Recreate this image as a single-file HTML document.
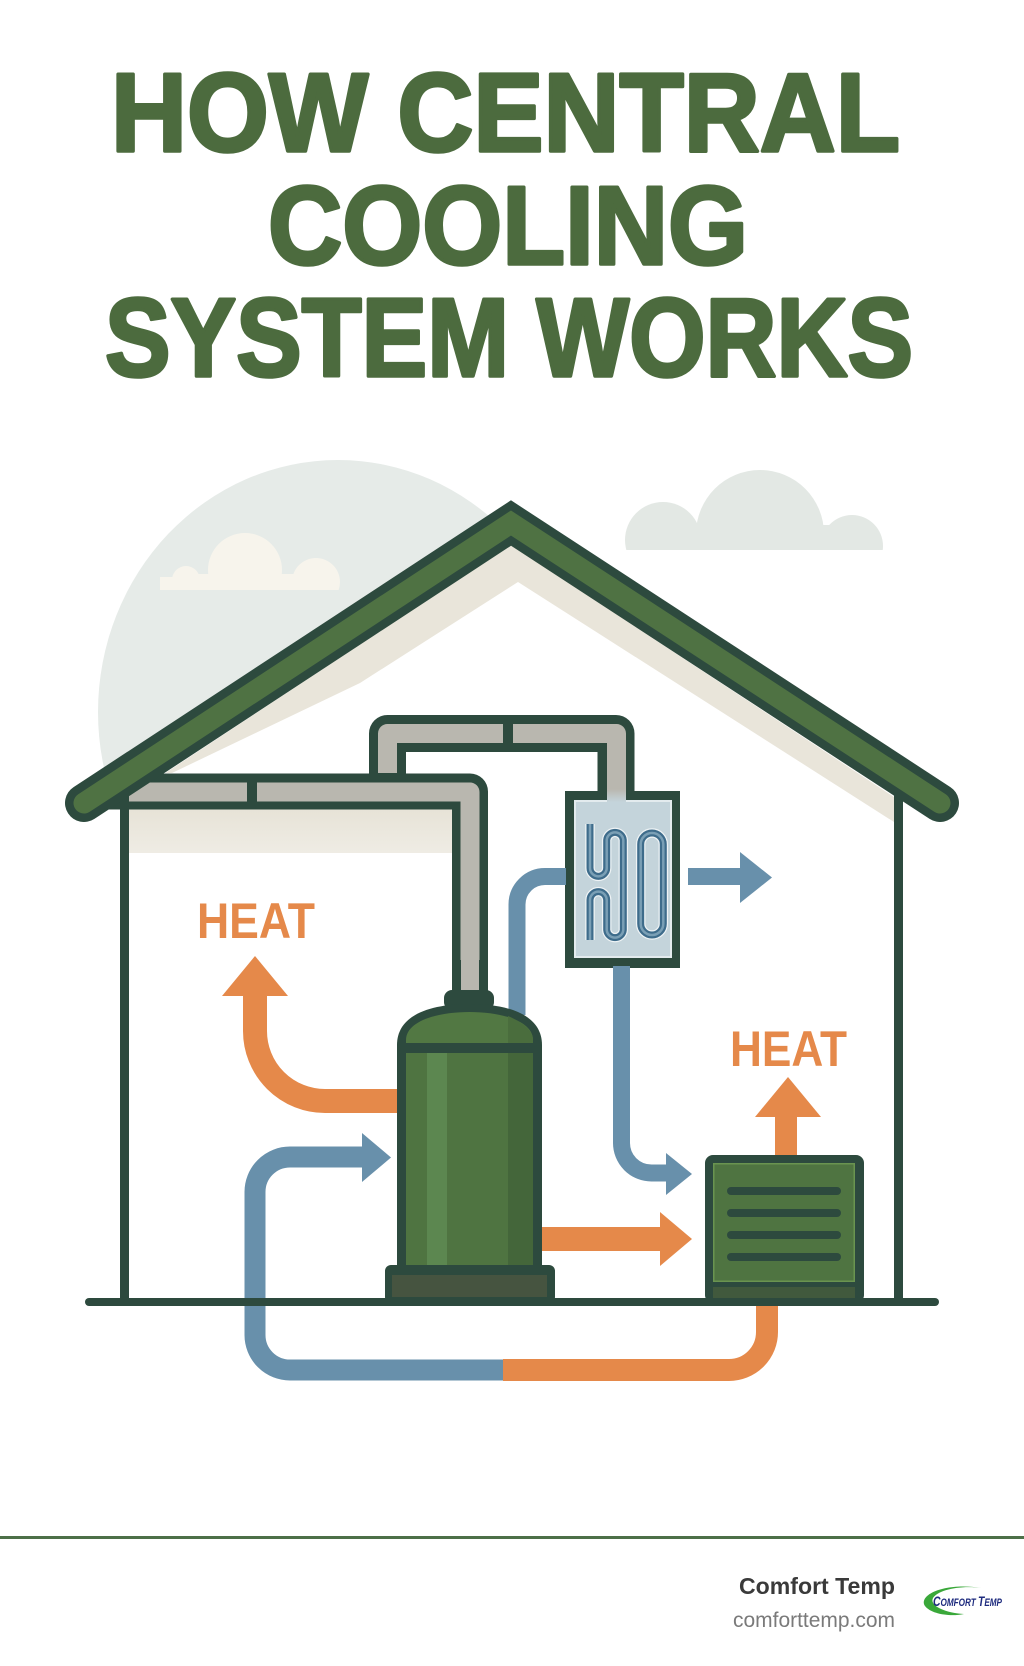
<!DOCTYPE html>
<html><head><meta charset="utf-8"><style>
html,body{margin:0;padding:0;background:#fff;}
svg{display:block;}
</style></head><body>
<svg width="1024" height="1666" viewBox="0 0 1024 1666" xmlns="http://www.w3.org/2000/svg">
<defs>
<clipPath id="cr"><rect x="590" y="400" width="320" height="150"/></clipPath>
<clipPath id="cl"><rect x="140" y="480" width="220" height="110"/></clipPath>
<linearGradient id="bp" x1="0" y1="0" x2="0" y2="1"><stop offset="0" stop-color="#e6e2d6"/><stop offset="1" stop-color="#efece4"/></linearGradient>
<linearGradient id="gn" x1="0" y1="0" x2="0" y2="1"><stop offset="0" stop-color="#b9b7af"/><stop offset="1" stop-color="#c4d4db"/></linearGradient>
</defs>
<rect width="1024" height="1666" fill="#fff"/>

<!-- Title -->
<g font-family="Liberation Sans, Arial, sans-serif" font-weight="bold" fill="#4c6b3e" stroke="#4c6b3e" stroke-width="3.5" stroke-linejoin="round" font-size="111">
<text x="111" y="151" textLength="789" lengthAdjust="spacingAndGlyphs">HOW CENTRAL</text>
<text x="268" y="264" textLength="480" lengthAdjust="spacingAndGlyphs">COOLING</text>
<text x="105" y="376" textLength="808" lengthAdjust="spacingAndGlyphs">SYSTEM WORKS</text>
</g>

<!-- sun -->
<ellipse cx="338" cy="712" rx="240" ry="252" fill="#e6ebe8"/>
<!-- right cloud -->
<g clip-path="url(#cr)" fill="#e3e8e4">
<circle cx="760" cy="534" r="64"/>
<circle cx="663" cy="540" r="38"/>
<circle cx="852" cy="546" r="31"/>
<rect x="660" y="525" width="195" height="30"/>
</g>
<!-- left cloud -->
<g clip-path="url(#cl)" fill="#f7f4ec">
<circle cx="245" cy="570" r="37"/>
<circle cx="316" cy="582" r="24"/>
<circle cx="186" cy="580" r="14"/>
<rect x="175" y="574" width="145" height="20"/>
<rect x="160" y="577" width="30" height="15"/>
</g>

<!-- house interior -->
<polygon points="115,805 511,540 908,805 908,1300 115,1300" fill="#fff"/>
<polygon points="129,797 511,545 894,797 894,824 129,824" fill="#e9e5da"/>
<polygon points="518,582 894,822 894,1300 129,1300 129,773 172,773 360,683" fill="#fff"/>
<rect x="129" y="806" width="324" height="47" fill="url(#bp)"/>

<!-- ducts dark -->
<g fill="none" stroke="#2d4a3e" stroke-linejoin="round">
<path d="M100,791.5 H470 V995" stroke-width="36"/>
<path d="M387.5,791 V733.5 H616 V796" stroke-width="37"/>
</g>
<g fill="none" stroke="#b9b7af" stroke-linejoin="round" stroke-width="19">
<path d="M387.5,773 V733.5 H616.5 V792"/>
<path d="M100,792 H470 V994"/>
</g>
<rect x="503" y="722" width="10" height="23" fill="#2d4a3e"/>
<rect x="247" y="780" width="10" height="24" fill="#2d4a3e"/>

<!-- evaporator -->
<rect x="565" y="791" width="115" height="177" fill="#2d4a3e"/>
<rect x="574" y="800" width="98" height="158" fill="#e3ebee"/>
<rect x="576" y="802" width="94" height="154" fill="#c4d4db"/>
<rect x="607" y="789" width="19" height="13" fill="url(#gn)"/>
<g fill="none" stroke-linecap="butt">
<path d="M590,940 V900 A8.33,8.33 0 0 1 606.7,900 V930 A8.33,8.33 0 0 0 623.3,930 V840 A8.33,8.33 0 0 0 606.7,840 V868 A8.33,8.33 0 0 1 590,868 V824" stroke="#eef3f5" stroke-width="9.5"/>
<rect x="640.7" y="833" width="22.6" height="102" rx="11.3" stroke="#eef3f5" stroke-width="9.5"/>
<path d="M590,940 V900 A8.33,8.33 0 0 1 606.7,900 V930 A8.33,8.33 0 0 0 623.3,930 V840 A8.33,8.33 0 0 0 606.7,840 V868 A8.33,8.33 0 0 1 590,868 V824" stroke="#3e6c8b" stroke-width="7"/>
<rect x="640.7" y="833" width="22.6" height="102" rx="11.3" stroke="#3e6c8b" stroke-width="7"/>
<path d="M590,940 V900 A8.33,8.33 0 0 1 606.7,900 V930 A8.33,8.33 0 0 0 623.3,930 V840 A8.33,8.33 0 0 0 606.7,840 V868 A8.33,8.33 0 0 1 590,868 V824" stroke="#7a9fb5" stroke-width="2.5"/>
<rect x="640.7" y="833" width="22.6" height="102" rx="11.3" stroke="#7a9fb5" stroke-width="2.5"/>
</g>

<!-- blue flows -->
<g fill="none" stroke="#6890ab">
<path d="M566,876.5 H545 A28,28 0 0 0 517,904.5 V1015" stroke-width="17"/>
<path d="M621.5,966 V1143 A30,30 0 0 0 651.5,1173 H670" stroke-width="17"/>
<path d="M364,1157 H290 A35,35 0 0 0 255,1192 V1335 A35,35 0 0 0 290,1370 H506" stroke-width="21"/>
</g>
<g fill="#6890ab">
<rect x="688" y="868" width="54" height="17"/>
<polygon points="740,852 772,877.5 740,903"/>
<polygon points="666,1153 692,1174 666,1195"/>
<polygon points="362,1133 391,1157.5 362,1182"/>
</g>

<!-- orange flows -->
<g fill="none" stroke="#e5894a">
<path d="M400,1101 H325 A70,70 0 0 1 255,1031 V993" stroke-width="24"/>
<path d="M503,1370 H729 A38,38 0 0 0 767,1332 V1300" stroke-width="22"/>
</g>
<g fill="#e5894a">
<polygon points="222,996 255,956 288,996"/>
<rect x="540" y="1227" width="122" height="24"/>
<polygon points="660,1212 692,1239 660,1266"/>
<rect x="775" y="1114" width="22" height="44"/>
<polygon points="755,1117 788,1077 821,1117"/>
</g>

<!-- compressor -->
<rect x="452" y="960" width="36" height="40" fill="#2d4a3e"/>
<rect x="461" y="960" width="18" height="33" fill="#b9b7af"/>
<rect x="444" y="990" width="50" height="20" rx="8" fill="#2d4a3e"/>
<path d="M397,1270 V1045 C397,1015 430,1004 469.5,1004 C509,1004 542,1015 542,1045 V1270 Z" fill="#2d4a3e"/>
<path d="M406,1043 V1040 C406,1022 435,1012 469.5,1012 C504,1012 533,1022 533,1040 V1043 Z" fill="#527843"/>
<path d="M508,1043 V1016 C522,1022 533,1030 533,1040 V1043 Z" fill="#4a6d3d"/>
<rect x="406" y="1053" width="127" height="213" fill="#4f7441"/>
<rect x="427" y="1053" width="20" height="213" fill="#5c8750"/>
<rect x="508" y="1053" width="25" height="213" fill="#44663a"/>
<rect x="385" y="1265" width="170" height="38" rx="6" fill="#2d4a3e"/>
<rect x="392" y="1275" width="155" height="22" fill="#465440"/>

<!-- condenser -->
<rect x="705" y="1155" width="159" height="148" rx="8" fill="#2d4a3e"/>
<rect x="713" y="1163" width="142" height="119" fill="#6a9450"/>
<rect x="714.5" y="1164.5" width="139" height="116" fill="#4f7441"/>
<rect x="713" y="1287" width="142" height="11" fill="#41593d"/>
<g fill="#2d4a3e">
<rect x="727" y="1187" width="114" height="8" rx="4"/>
<rect x="727" y="1209" width="114" height="8" rx="4"/>
<rect x="727" y="1231" width="114" height="8" rx="4"/>
<rect x="727" y="1253" width="114" height="8" rx="4"/>
</g>

<!-- walls & ground -->
<rect x="120" y="790" width="9" height="512" fill="#2d4a3e"/>
<rect x="894" y="790" width="9" height="512" fill="#2d4a3e"/>
<rect x="85" y="1298" width="854" height="8" rx="4" fill="#2d4a3e"/>

<!-- roof -->
<polyline points="84,803 511,523 940,803" fill="none" stroke="#2d4a3e" stroke-width="38" stroke-linejoin="miter" stroke-linecap="round"/>
<polyline points="84,803 511,523 940,803" fill="none" stroke="#4f7243" stroke-width="21" stroke-linejoin="miter" stroke-linecap="round"/>

<!-- HEAT labels -->
<g font-family="Liberation Sans, Arial, sans-serif" font-weight="bold" fill="#e5894a" font-size="50">
<text x="197" y="938" textLength="118" lengthAdjust="spacingAndGlyphs">HEAT</text>
<text x="730" y="1066" textLength="117" lengthAdjust="spacingAndGlyphs">HEAT</text>
</g>

<!-- footer -->
<rect x="0" y="1536" width="1024" height="3" fill="#4d7048"/>
<text x="895" y="1594" text-anchor="end" font-family="Liberation Sans, Arial, sans-serif" font-weight="bold" font-size="23" fill="#3a3a3a" textLength="156" lengthAdjust="spacingAndGlyphs">Comfort Temp</text>
<text x="895" y="1627" text-anchor="end" font-family="Liberation Sans, Arial, sans-serif" font-size="21" fill="#7a7a7a" textLength="162" lengthAdjust="spacingAndGlyphs">comforttemp.com</text>
<path d="M982,1588 C944,1582 918,1595 925,1606 C931,1614 950,1617 964,1614 C946,1613 929,1606 933,1598 C938,1590 960,1585 982,1588 Z" fill="#3aa83a"/>
<text x="933" y="1606" font-family="Liberation Sans, Arial, sans-serif" font-weight="bold" font-style="italic" font-size="11" fill="#1e2b7e" textLength="69" lengthAdjust="spacingAndGlyphs"><tspan font-size="14">C</tspan>OMFORT <tspan font-size="14">T</tspan>EMP</text>
</svg>
</body></html>
